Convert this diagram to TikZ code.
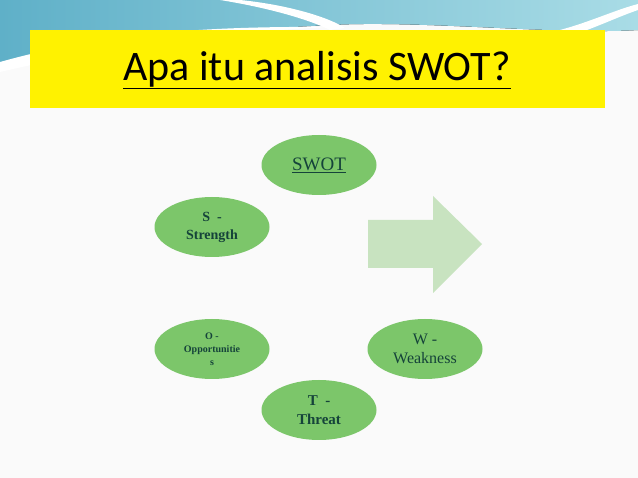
\documentclass[tikz,border=0pt]{standalone}
\usepackage{fontspec}
\setmainfont{Carlito}
\newfontfamily\serifb{Liberation Serif}
\usetikzlibrary{shapes.geometric}
\definecolor{ellg}{HTML}{7CC66A}
\definecolor{txtd}{HTML}{15433A}
\definecolor{arrg}{HTML}{C8E3C0}
\definecolor{skyA}{HTML}{5FB0C8}
\definecolor{skyB}{HTML}{A9DCE6}
\tikzset{swot/.style={ellipse, fill=ellg, minimum width=115pt, minimum height=60pt, inner sep=0pt, text=txtd, align=center}}
\begin{document}
\begin{tikzpicture}[x=1pt,y=-1pt]
\useasboundingbox (0,0) rectangle (638,478);
\fill[white!96!gray] (0,0) rectangle (638,478);
% top swoosh
\fill[left color=skyA, right color=skyB] (0,0) -- (638,0) -- (638,30) .. controls (560,35) and (420,20) .. (330,25) .. controls (230,30) and (120,40) .. (0,68) -- cycle;
\fill[white] (0,72) .. controls (120,44) and (230,32) .. (330,27) .. controls (200,26) and (100,34) .. (0,62) -- cycle;
\fill[white] (240,0) .. controls (290,5) and (330,18) .. (345,28) -- (330,30) .. controls (310,20) and (270,8) .. (220,0) -- cycle;
\fill[white] (560,30) .. controls (590,22) and (615,10) .. (638,4) -- (638,10) .. controls (615,18) and (600,26) .. (570,36) -- cycle;
% title
\node[fill=yellow, minimum width=575pt, minimum height=78pt, inner sep=0pt] (title) at (317.5,69) {};
\node[font=\fontsize{42}{48}\selectfont, text=black] (ttext) at (317,70) {\underline{Apa itu analisis SWOT?}};
% arrow
\fill[arrg] (368,220) -- (433,220) -- (433,196) -- (482,244) -- (433,293) -- (433,268) -- (368,268) -- cycle;
% ellipses
\node[swot, font=\serifb\fontsize{19}{21}\selectfont] (swot) at (319,165) {\underline{SWOT}};
\node[swot, font=\serifb\bfseries\fontsize{14}{18}\selectfont] (s) at (212,227) {S\ \ -\\Strength};
\node[swot, font=\serifb\bfseries\fontsize{10}{13}\selectfont] (o) at (212,349) {O\ -\\Opportunitie\\s};
\node[swot, font=\serifb\fontsize{16}{19}\selectfont] (w) at (425,349) {W -\\Weakness};
\node[swot, font=\serifb\bfseries\fontsize{15}{19}\selectfont] (t) at (319,410) {T\ \ -\\Threat};
\end{tikzpicture}
\end{document}
